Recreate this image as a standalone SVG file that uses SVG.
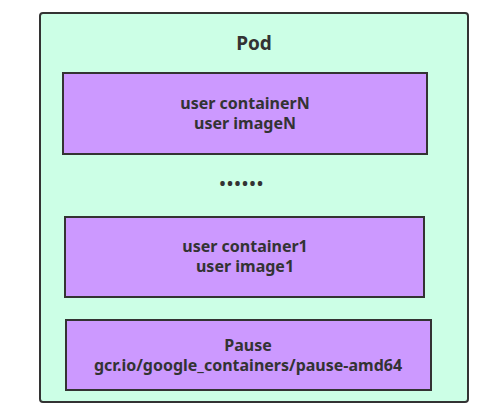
<svg xmlns="http://www.w3.org/2000/svg" width="501" height="412" viewBox="0 0 501 412">
<style>
.box{fill:#cc99ff;stroke:#333333;stroke-width:2}
.t{font-family:"Noto Sans","Open Sans","Liberation Sans",sans-serif;font-weight:bold;font-size:16px;fill:#333333;text-anchor:middle}
</style>
<rect width="501" height="412" fill="#ffffff"/>
<g id="pod">
<rect x="40" y="13" width="428" height="389" rx="3" fill="#ccffe6" stroke="#333333" stroke-width="2"/>
<text class="t" x="254" y="50" style="font-size:19px">Pod</text>
<text class="t" x="242" y="189" style="font-size:16px;letter-spacing:1.5px">••••••</text>
</g>
<g id="containerN">
<rect class="box" x="63" y="73" width="364" height="81"/>
<text class="t" x="245" y="109">user containerN</text>
<text class="t" x="245" y="129">user imageN</text>
</g>
<g id="container1">
<rect class="box" x="65" y="217" width="359" height="80"/>
<text class="t" x="245" y="252">user container1</text>
<text class="t" x="245" y="272">user image1</text>
</g>
<g id="pause">
<rect class="box" x="66" y="320" width="365" height="70"/>
<text class="t" x="248" y="351">Pause</text>
<text class="t" x="248" y="371">gcr.io/google_containers/pause-amd64</text>
</g>
<g id="connectors"/>
</svg>
